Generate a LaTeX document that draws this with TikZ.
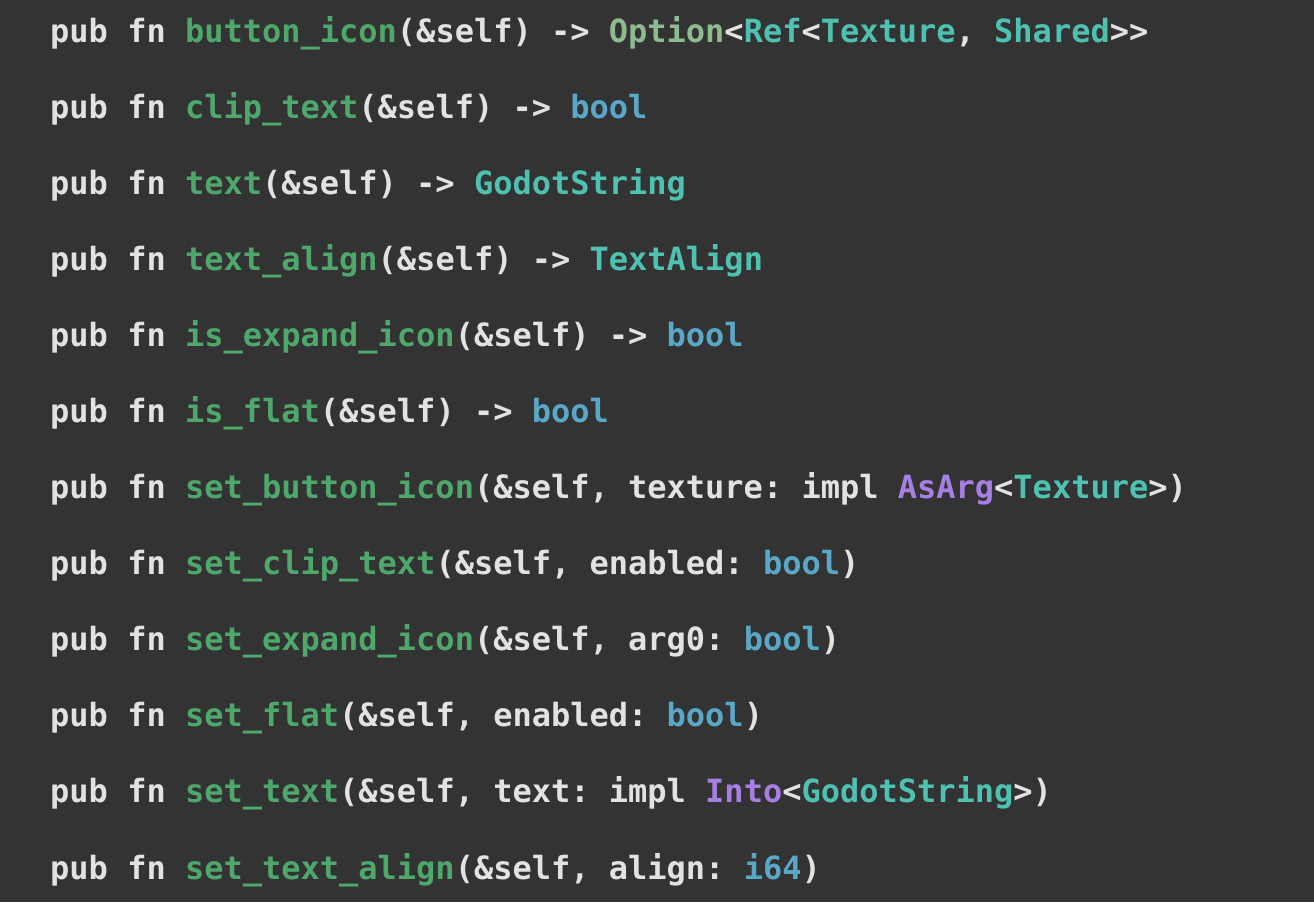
\documentclass[tikz,border=0pt]{standalone}
\usepackage{fontspec}
\setmonofont{DejaVu Sans Mono}
\usepackage{xcolor}
\definecolor{bg}{HTML}{333333}
\definecolor{fg}{HTML}{E2E2E2}
\definecolor{fnc}{HTML}{4EA86B}
\definecolor{ty}{HTML}{4EC1B0}
\definecolor{bl}{HTML}{5AA8C8}
\definecolor{pu}{HTML}{A77FE3}
\definecolor{op}{HTML}{8DBB8F}
\newcommand{\cF}[1]{\textcolor{fnc}{#1}}
\newcommand{\cT}[1]{\textcolor{ty}{#1}}
\newcommand{\cB}[1]{\textcolor{bl}{#1}}
\newcommand{\cP}[1]{\textcolor{pu}{#1}}
\newcommand{\cO}[1]{\textcolor{op}{#1}}
\begin{document}
\begin{tikzpicture}[x=1pt,y=1pt,
  code/.style={anchor=base west,inner sep=0pt,text=fg,font=\ttfamily\bfseries\fontsize{32}{32}\selectfont}]
\fill[bg] (0,0) rectangle (1314,902);
\useasboundingbox (0,0) rectangle (1314,902);
\node[code] (l1) at (50,859) {pub fn \cF{button\_icon}(\&self) -> \cO{Option}<\cT{Ref}<\cT{Texture}, \cT{Shared}>>};
\node[code] (l2) at (50,783) {pub fn \cF{clip\_text}(\&self) -> \cB{bool}};
\node[code] (l3) at (50,707) {pub fn \cF{text}(\&self) -> \cT{GodotString}};
\node[code] (l4) at (50,631) {pub fn \cF{text\_align}(\&self) -> \cT{TextAlign}};
\node[code] (l5) at (50,555) {pub fn \cF{is\_expand\_icon}(\&self) -> \cB{bool}};
\node[code] (l6) at (50,479) {pub fn \cF{is\_flat}(\&self) -> \cB{bool}};
\node[code] (l7) at (50,403) {pub fn \cF{set\_button\_icon}(\&self, texture: impl \cP{AsArg}<\cT{Texture}>)};
\node[code] (l8) at (50,327) {pub fn \cF{set\_clip\_text}(\&self, enabled: \cB{bool})};
\node[code] (l9) at (50,251) {pub fn \cF{set\_expand\_icon}(\&self, arg0: \cB{bool})};
\node[code] (l10) at (50,175) {pub fn \cF{set\_flat}(\&self, enabled: \cB{bool})};
\node[code] (l11) at (50,99) {pub fn \cF{set\_text}(\&self, text: impl \cP{Into}<\cT{GodotString}>)};
\node[code] (l12) at (50,23) {pub fn \cF{set\_text\_align}(\&self, align: \cB{i64})};
\end{tikzpicture}
\end{document}
